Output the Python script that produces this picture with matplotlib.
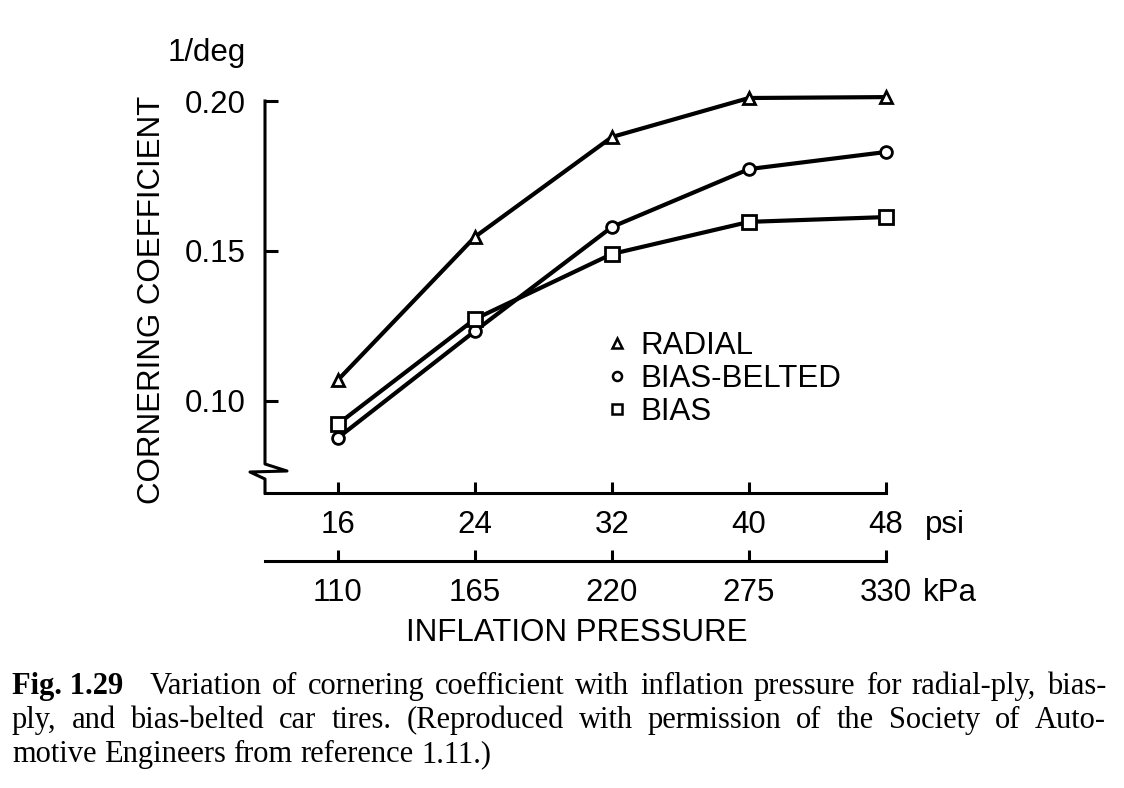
import matplotlib
matplotlib.use("Agg")
import matplotlib.pyplot as plt
from matplotlib.lines import Line2D

# datos
psi = [16, 24, 32, 40, 48]
kpa_ticks = [110, 165, 220, 275, 330]
radial = [0.107, 0.1547, 0.188, 0.201, 0.2013]
bias_belted = [0.0877, 0.1233, 0.158, 0.1773, 0.183]
bias = [0.0923, 0.1273, 0.149, 0.1597, 0.1613]
y_ticks = [0.10, 0.15, 0.20]
y_labels = ["0.10", "0.15", "0.20"]

W, H = 1124, 788
SANS = ["Liberation Sans", "DejaVu Sans"]
SERIF = ["Liberation Serif", "DejaVu Serif"]
plt.rcParams["font.family"] = SANS
FS = 22.5


def fx(px):
    return px / W


def fy(py):
    return 1 - py / H


fig = plt.figure(figsize=(W / 100, H / 100), dpi=100)
ax = fig.add_axes([fx(265), fy(493), fx(886) - fx(265), (493 - 101) / H])

ax.set_xlim(11.74, 48)
ax.set_ylim(0.0693, 0.20)

lw = 3.0
for vals, mk, ms in [(radial, "^", 9), (bias_belted, "o", 8.5), (bias, "s", 10)]:
    ax.plot(psi, vals, color="black", lw=lw, marker=mk, ms=ms, mfc="white",
            mec="black", mew=2.0, clip_on=False, zorder=3)

for s in ["top", "right", "left"]:
    ax.spines[s].set_visible(False)
ax.spines["bottom"].set_linewidth(2.2)

# eje y con corte dibujado a mano
def ax_pt(px, py):
    return (px - 265) / 621, (493 - py) / 392

pts = [ax_pt(265, 101), ax_pt(265, 464), ax_pt(287, 471), ax_pt(250, 472),
       ax_pt(265, 479), ax_pt(265, 493)]
ax.plot([p[0] for p in pts], [p[1] for p in pts], color="black", lw=2.2,
        transform=ax.transAxes, clip_on=False, solid_joinstyle="round")

ax.set_xticks(psi)
ax.set_xticklabels([str(p) for p in psi])
ax.set_yticks(y_ticks)
ax.set_yticklabels(y_labels)
ax.tick_params(axis="x", direction="in", length=8, width=2.2, pad=12, labelsize=FS)
ax.tick_params(axis="y", direction="in", length=9, width=2.2, pad=14, labelsize=FS)

sec = ax.secondary_xaxis(-68 / 392, functions=(lambda p: p * 6.875, lambda k: k / 6.875))
sec.set_xticks(kpa_ticks)
sec.set_xticklabels([str(k) for k in kpa_ticks])
sec.tick_params(direction="in", length=8, width=2.2, pad=12, labelsize=FS)
sec.spines["bottom"].set_linewidth(2.2)

handles = [
    Line2D([], [], ls="none", marker="^", ms=7, mfc="white", mec="black", mew=1.8),
    Line2D([], [], ls="none", marker="o", ms=6.5, mfc="white", mec="black", mew=1.8),
    Line2D([], [], ls="none", marker="s", ms=7.5, mfc="white", mec="black", mew=1.8),
]
fig.legend(handles, ["RADIAL", "BIAS-BELTED", "BIAS"], loc="center left",
           bbox_to_anchor=(fx(606), fy(379)), frameon=False, fontsize=FS,
           borderpad=0, borderaxespad=0, handlelength=0.7, handletextpad=0.4,
           labelspacing=0.1)

fig.text(fx(207), fy(53), "1/deg", fontsize=FS, ha="center", va="center")
fig.text(fx(152), fy(300), "CORNERING COEFFICIENT", fontsize=FS, rotation=90,
         ha="center", va="center")
fig.text(fx(925), fy(533), "psi", fontsize=FS, ha="left", va="baseline")
fig.text(fx(923), fy(601), "kPa", fontsize=FS, ha="left", va="baseline")
fig.text(fx(577), fy(633), "INFLATION PRESSURE", fontsize=FS, ha="center", va="center")

# pie de figura justificado
renderer = fig.canvas.get_renderer()


def put_line(tokens, x0, x1, y, justify=True, size=22):
    widths = []
    for txt, weight, extra in tokens:
        t = fig.text(0, 0, txt, fontsize=size, family=SERIF, weight=weight)
        widths.append(t.get_window_extent(renderer).width + extra)
        t.remove()
    if justify and len(tokens) > 1:
        gap = (x1 - x0 - sum(widths)) / (len(tokens) - 1)
    else:
        sp = fig.text(0, 0, "a a", fontsize=size, family=SERIF)
        sp2 = fig.text(0, 0, "aa", fontsize=size, family=SERIF)
        gap = sp.get_window_extent(renderer).width - sp2.get_window_extent(renderer).width
        sp.remove()
        sp2.remove()
    x = x0
    for (txt, weight, extra), w in zip(tokens, widths):
        fig.text(fx(x), fy(y), txt, fontsize=size, family=SERIF, weight=weight,
                 ha="left", va="baseline")
        x += w + gap


line1 = "Variation of cornering coefficient with inflation pressure for radial-ply, bias-"
line2 = "ply, and bias-belted car tires. (Reproduced with permission of the Society of Auto-"
line3 = "motive Engineers from reference 1.11.)"

put_line([("Fig. 1.29", "bold", 16)] + [(w, "normal", 0) for w in line1.split()], 12, 1106, 694)
put_line([(w, "normal", 0) for w in line2.split()], 12, 1106, 728)
put_line([(w, "normal", 0) for w in line3.split()], 12, 1106, 762, justify=False)

fig.savefig("out.png", dpi=100)
